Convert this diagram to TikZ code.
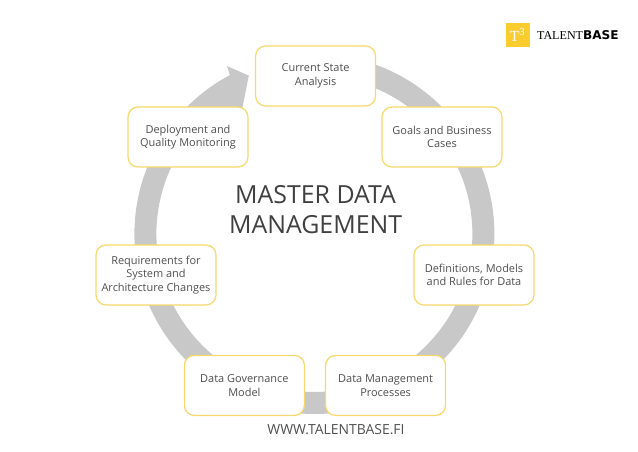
\documentclass[tikz,border=0pt]{standalone}
\usepackage{fontspec}
\setmainfont{Open Sans}
\newfontfamily\logoserif{Liberation Serif}
\newfontfamily\logosans{DejaVu Sans}
\usepackage{xcolor}
\definecolor{ringgray}{RGB}{200,200,200}
\definecolor{boxyellow}{RGB}{247,216,110}
\definecolor{logoyellow}{RGB}{250,204,46}
\definecolor{inkgray}{RGB}{80,80,80}

\begin{document}
\begin{tikzpicture}[
        stage/.style={draw=boxyellow, fill=white, line width=0.9pt, rounded corners=2.5mm,
          minimum width=3cm, minimum height=1.5cm, inner sep=0pt, align=center,
          text=inkgray, font=\fontsize{7.8}{9.6}\selectfont},
        ringline/.style={-, draw=ringgray, line width=0.55cm},
        title/.style={text=black!75, align=center, font=\fontsize{17.7}{21.3}\selectfont}
      ]
      \useasboundingbox (0,0) rectangle (15.95,11.275);

      % Ring behind the boxes
      \begin{scope}[shift={(7.86,5.425)}]
        \coordinate (C) at (0,0);
        \draw[ringline] (90:4.225) arc[start angle=90, end angle=-242, radius=4.225];
        \fill[ringgray] (-2.185,4.2) -- (-1.64,3.96) -- (-1.835,2.975) -- (-2.6,2.975) -- (118:4.5) -- cycle;
      \end{scope}

      % Stages, clockwise from the top
      \node[stage] (S1) at (7.89,9.375) {Current State\\Analysis};
      \node[stage] (S2) at (11.05,7.85) {Goals and Business\\Cases};
      \node[stage] (S3) at (11.85,4.4) {Definitions, Models\\and Rules for Data};
      \node[stage] (S4) at (9.64,1.64) {Data Management\\Processes};
      \node[stage] (S5) at (6.11,1.64) {Data Governance\\Model};
      \node[stage] (S6) at (3.9,4.4) {Requirements for\\System and\\Architecture Changes};
      \node[stage] (S7) at (4.7,7.85) {Deployment and\\Quality Monitoring};

      % Title and address
      \node[title] (T) at (7.89,6.03) {MASTER DATA\\MANAGEMENT};
      \node[text=inkgray, font=\fontsize{9.9}{12}\selectfont] (W) at (8.4,0.53) {WWW.TALENTBASE.FI};

      % Logo
      \node[fill=logoyellow, minimum size=0.6cm, inner sep=0pt, text=white,
        font=\logoserif\fontsize{11}{11}\selectfont] (L) at (12.94,10.4) {T\textsuperscript{3}};
      \node[right=0pt, inner sep=0pt, text=black, font=\fontsize{8.6}{10}\selectfont] (N) at (13.42,10.4)
        {{\logoserif TALENT}{\logosans\bfseries BASE}};

    \end{tikzpicture}
\end{document}
